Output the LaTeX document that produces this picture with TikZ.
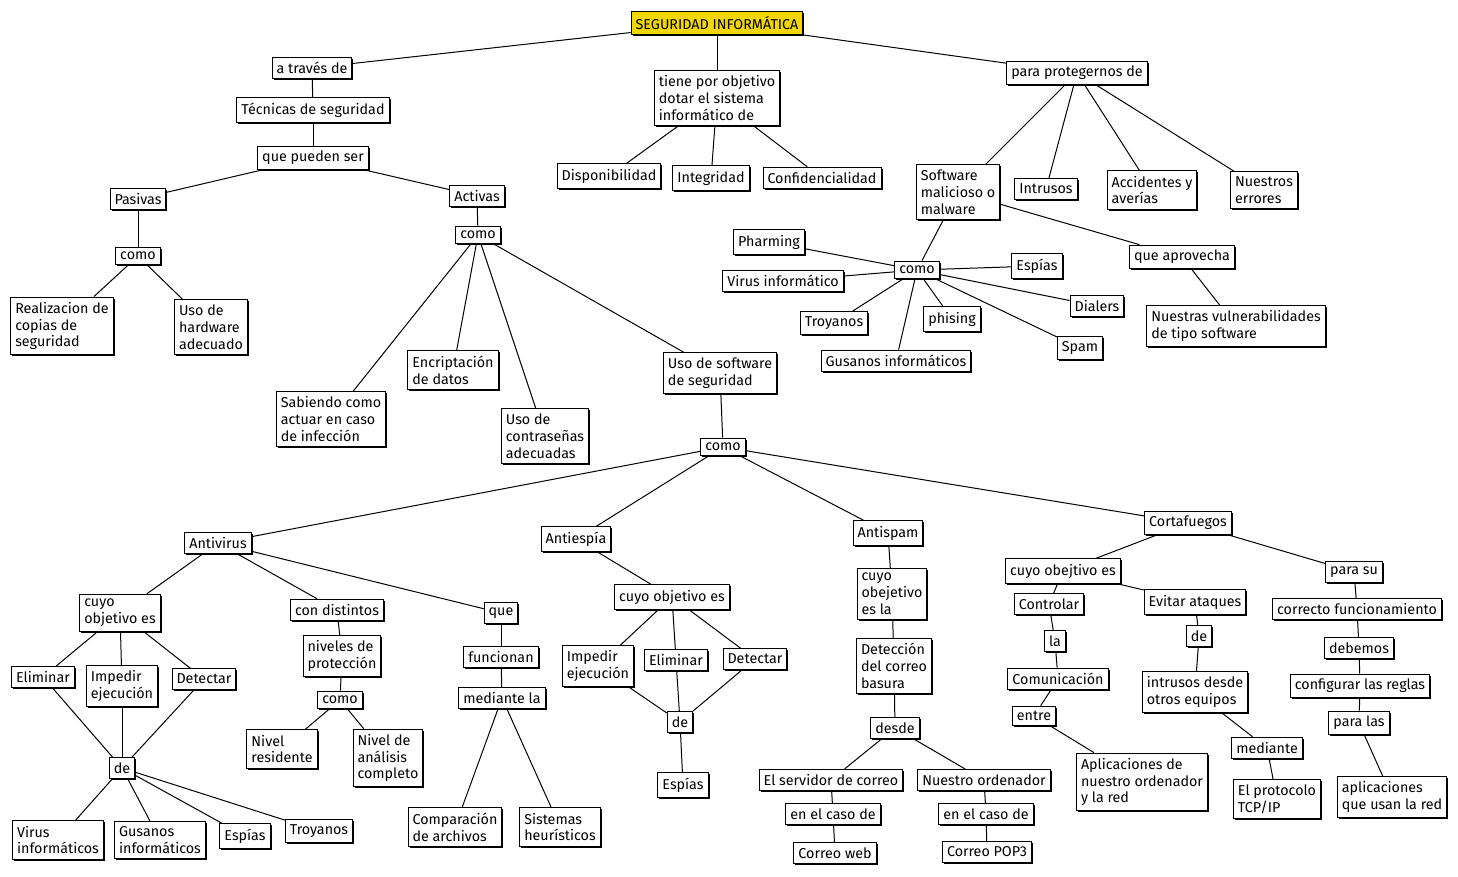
\documentclass[tikz,border=0pt]{standalone}
\usepackage{fontspec}
\setmainfont{Fira Sans}
\usetikzlibrary{shadows}
\begin{document}
\begin{tikzpicture}[x=1pt,y=-1pt,
 n/.style={draw,line width=1pt,fill=white,align=left,inner xsep=4.5pt,inner ysep=5pt,font=\fontsize{14.3}{16.8}\selectfont,
   drop shadow={shadow xshift=1.5pt,shadow yshift=-1.5pt,fill=black,opacity=1}},
 every path/.style={line width=1pt}]
\useasboundingbox (0,0) rectangle (1458,877);
\definecolor{gold}{HTML}{F2D600}
\node[n,fill=gold] (root) at (717,23) {SEGURIDAD INFORMÁTICA};
\node[n] (atr) at (312,68) {a través de};
\node[n] (tec) at (313,110) {Técnicas de seguridad};
\node[n] (qps) at (313,158) {que pueden ser};
\node[n] (pas) at (138,199) {Pasivas};
\node[n] (act) at (477,196) {Activas};
\node[n] (comop) at (138,256) {como};
\node[n] (real) at (62,326) {Realizacion de\\copias de\\seguridad};
\node[n] (hard) at (211,327) {Uso de\\hardware\\adecuado};
\node[n] (comoa) at (478,235) {como};
\node[n] (sab) at (331,419) {Sabiendo como\\actuar en caso\\de infección};
\node[n] (enc) at (453,370) {Encriptación\\de datos};
\node[n] (con) at (545,436) {Uso de\\contraseñas\\adecuadas};
\node[n] (usw) at (720,373) {Uso de software\\de seguridad};
\node[n] (tie) at (717,98) {tiene por objetivo\\dotar el sistema\\informático de};
\node[n] (disp) at (609,176) {Disponibilidad};
\node[n] (integ) at (711,178) {Integridad};
\node[n] (conf) at (822,178) {Confidencialidad};
\node[n] (pro) at (1077,73) {para protegernos de};
\node[n] (soft) at (958,192) {Software\\malicioso o\\malware};
\node[n] (intr) at (1046,189) {Intrusos};
\node[n] (acc) at (1152,190) {Accidentes y\\averías};
\node[n] (err) at (1264,190) {Nuestros\\errores};
\node[n] (comom) at (917,270) {como};
\node[n] (phar) at (769,242) {Pharming};
\node[n] (vir) at (783,281) {Virus informático};
\node[n] (tro) at (834,323) {Troyanos};
\node[n] (gus) at (896,361) {Gusanos informáticos};
\node[n] (phi) at (952,319) {phising};
\node[n] (esp) at (1037,266) {Espías};
\node[n] (dia) at (1097,306) {Dialers};
\node[n] (spam) at (1080,348) {Spam};
\node[n] (qap) at (1182,257) {que aprovecha};
\node[n] (vul) at (1236,326) {Nuestras vulnerabilidades\\de tipo software};
\node[n] (comos) at (723,447) {como};
\node[n] (av) at (218,543) {Antivirus};
\node[n] (ae) at (576,539) {Antiespía};
\node[n] (as) at (888,533) {Antispam};
\node[n] (cf) at (1188,523) {Cortafuegos};
\node[n] (cuyo1) at (120,613) {cuyo\\objetivo es};
\node[n] (cdis) at (337,610) {con distintos};
\node[n] (que) at (501,613) {que};
\node[n] (eli1) at (43,677) {Eliminar};
\node[n] (imp1) at (122,686) {Impedir\\ejecución};
\node[n] (det1) at (204,679) {Detectar};
\node[n] (de1) at (122,768) {de};
\node[n] (vi2) at (58,840) {Virus\\informáticos};
\node[n] (gu2) at (160,840) {Gusanos\\informáticos};
\node[n] (es2) at (245,836) {Espías};
\node[n] (tr2) at (319,831) {Troyanos};
\node[n] (niv) at (342,656) {niveles de\\protección};
\node[n] (comon) at (340,700) {como};
\node[n] (nres) at (282,749) {Nivel\\residente};
\node[n] (nana) at (388,758) {Nivel de\\análisis\\completo};
\node[n] (fun) at (501,657) {funcionan};
\node[n] (med) at (502,698) {mediante la};
\node[n] (comp) at (455,827) {Comparación\\de archivos};
\node[n] (heu) at (560,827) {Sistemas\\heurísticos};
\node[n] (cuyo2) at (672,597) {cuyo objetivo es};
\node[n] (imp2) at (598,666) {Impedir\\ejecución};
\node[n] (eli2) at (676,660) {Eliminar};
\node[n] (det2) at (755,659) {Detectar};
\node[n] (de2) at (680,722) {de};
\node[n] (es3) at (683,785) {Espías};
\node[n] (cuyo3) at (892,594) {cuyo\\obejetivo\\es la};
\node[n] (detc) at (894,666) {Detección\\del correo\\basura};
\node[n] (des) at (895,728) {desde};
\node[n] (serv) at (831,780) {El servidor de correo};
\node[n] (nord) at (984,780) {Nuestro ordenador};
\node[n] (ecd1) at (833,814) {en el caso de};
\node[n] (ecd2) at (986,814) {en el caso de};
\node[n] (cweb) at (835,853) {Correo web};
\node[n] (pop) at (987,852) {Correo POP3};
\node[n] (cuyo4) at (1063,571) {cuyo obejtivo es};
\node[n] (ctrl) at (1049,604) {Controlar};
\node[n] (la) at (1055,641) {la};
\node[n] (comu) at (1058,679) {Comunicación};
\node[n] (ent) at (1034,716) {entre};
\node[n] (apl) at (1142,782) {Aplicaciones de\\nuestro ordenador\\y la red};
\node[n] (evi) at (1195,602) {Evitar ataques};
\node[n] (de3) at (1199,636) {de};
\node[n] (intd) at (1195,692) {intrusos desde\\otros equipos};
\node[n] (medi) at (1267,748) {mediante};
\node[n] (tcp) at (1277,799) {El protocolo\\TCP/IP};
\node[n] (psu) at (1354,572) {para su};
\node[n] (corr) at (1357,609) {correcto funcionamiento};
\node[n] (deb) at (1359,648) {debemos};
\node[n] (cfg) at (1360,686) {configurar las reglas};
\node[n] (pls) at (1359,723) {para las};
\node[n] (aplr) at (1392,797) {aplicaciones\\que usan la red};
\foreach \a/\b in {root/atr,root/tie,root/pro,atr/tec,tec/qps,qps/pas,qps/act,pas/comop,comop/real,comop/hard,
act/comoa,comoa/sab,comoa/enc,comoa/con,comoa/usw,tie/disp,tie/integ,tie/conf,pro/soft,pro/intr,pro/acc,pro/err,
soft/comom,soft/qap,qap/vul,comom/phar,comom/vir,comom/tro,comom/gus,comom/phi,comom/esp,comom/dia,comom/spam,
usw/comos,comos/av,comos/ae,comos/as,comos/cf,av/cuyo1,av/cdis,av/que,cuyo1/eli1,cuyo1/imp1,cuyo1/det1,
eli1/de1,imp1/de1,det1/de1,de1/vi2,de1/gu2,de1/es2,de1/tr2,cdis/niv,niv/comon,comon/nres,comon/nana,
que/fun,fun/med,med/comp,med/heu,ae/cuyo2,cuyo2/imp2,cuyo2/eli2,cuyo2/det2,imp2/de2,eli2/de2,det2/de2,de2/es3,
as/cuyo3,cuyo3/detc,detc/des,des/serv,des/nord,serv/ecd1,ecd1/cweb,nord/ecd2,ecd2/pop,
cf/cuyo4,cf/psu,cuyo4/ctrl,ctrl/la,la/comu,comu/ent,ent/apl,cuyo4/evi,evi/de3,de3/intd,intd/medi,medi/tcp,
psu/corr,corr/deb,deb/cfg,cfg/pls,pls/aplr}
 \draw (\a) -- (\b);
\end{tikzpicture}
\end{document}
